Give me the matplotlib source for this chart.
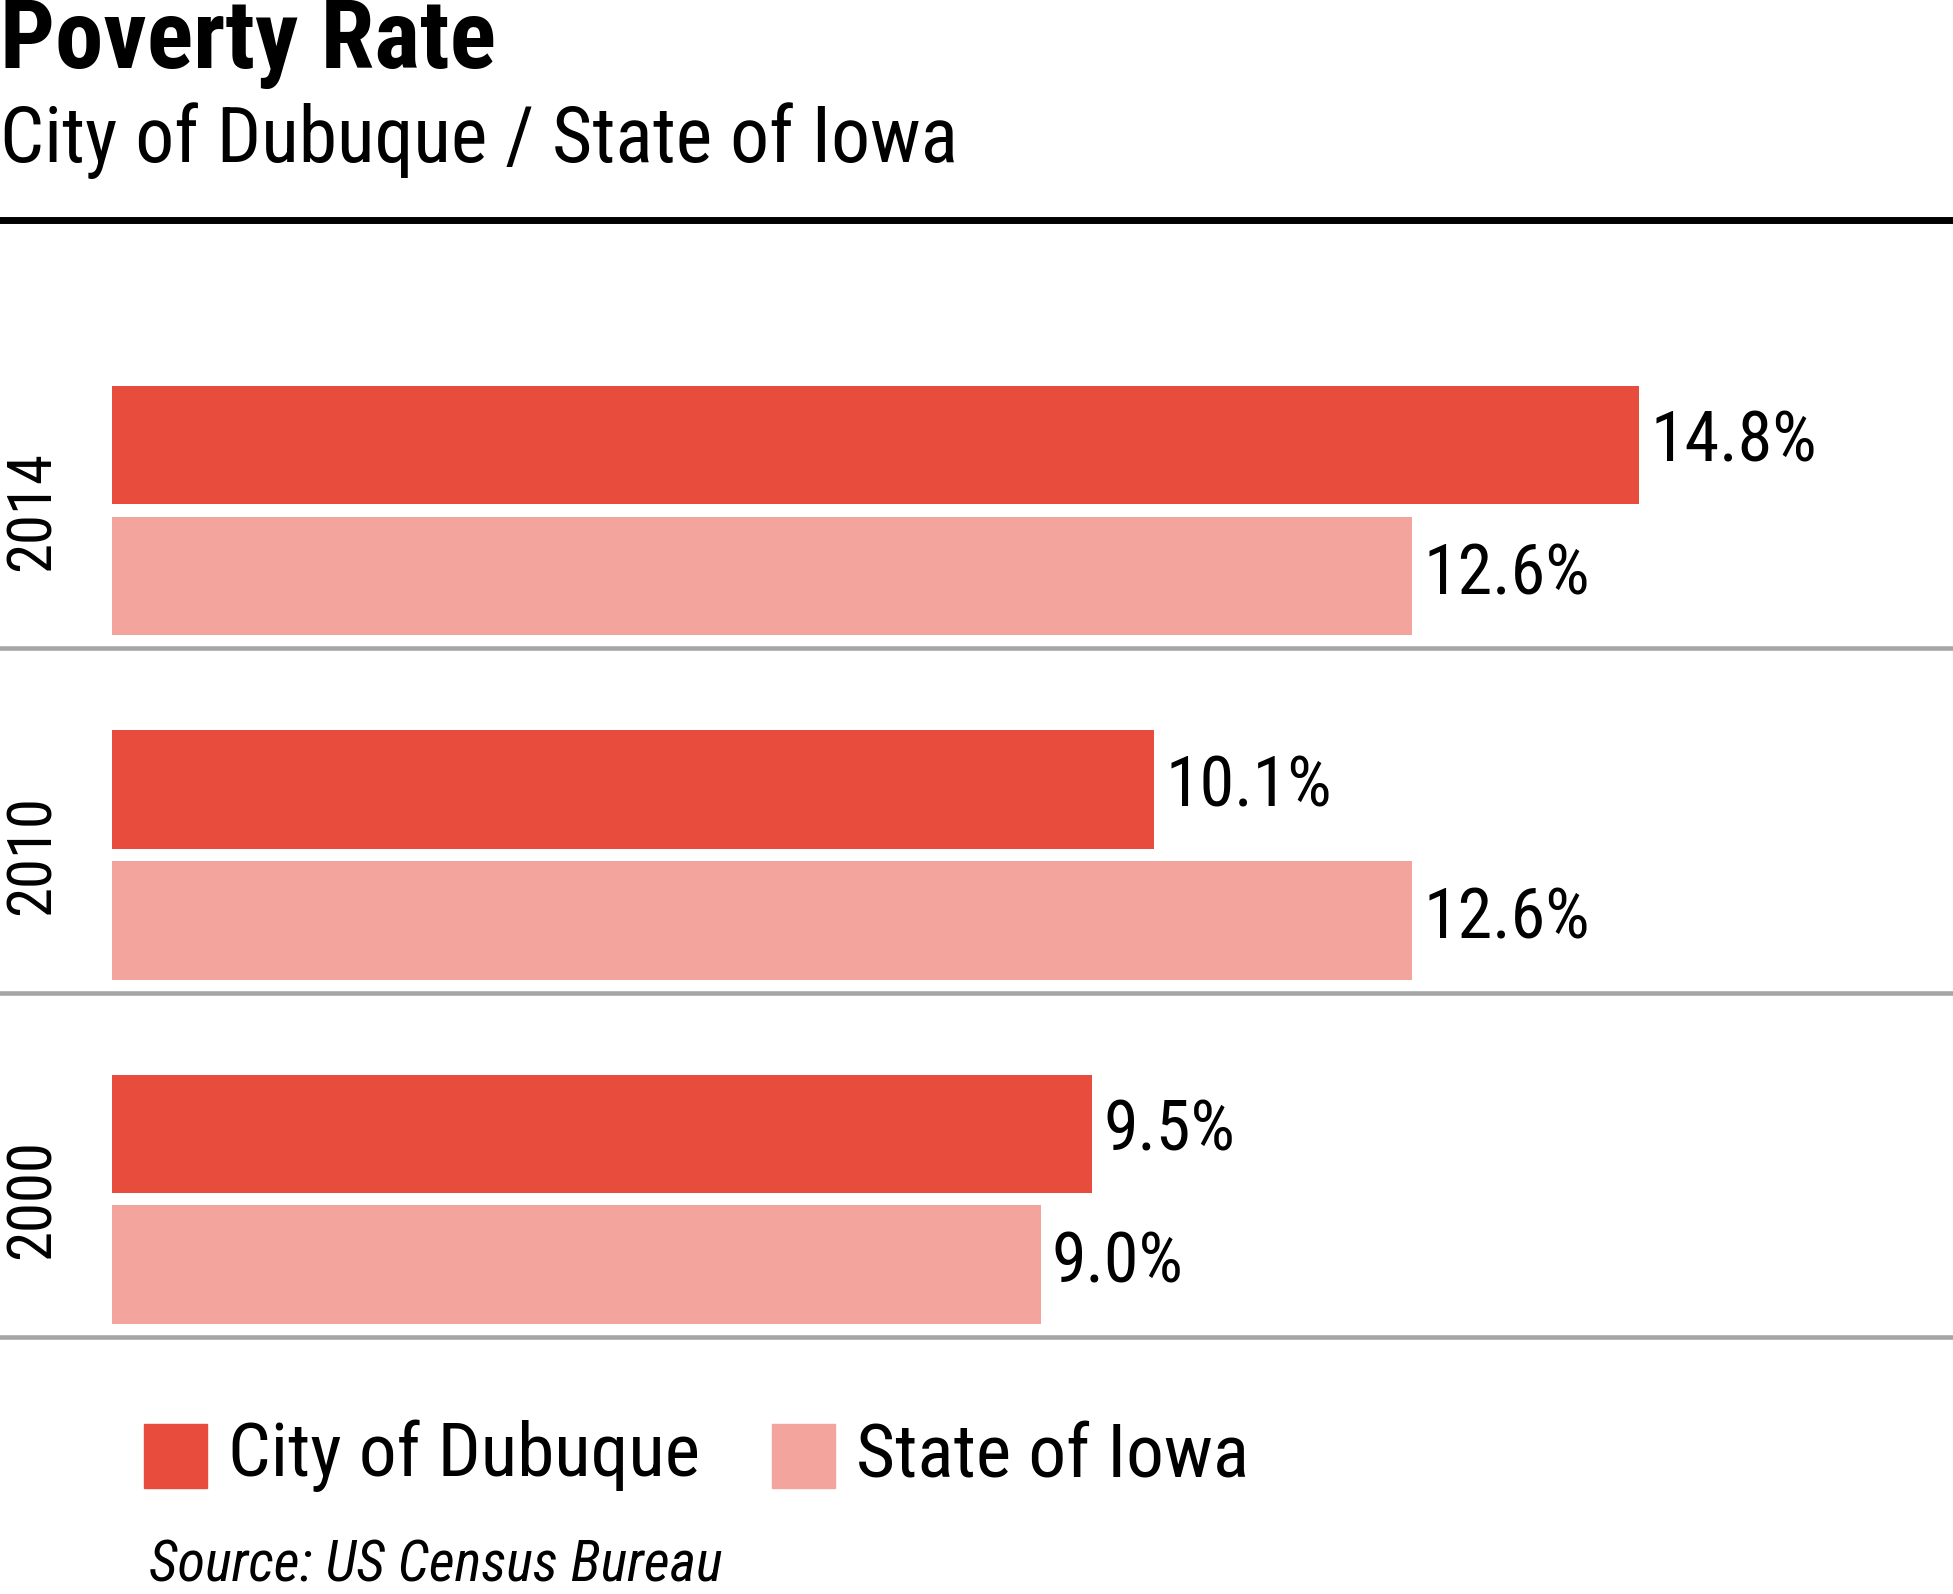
import matplotlib
matplotlib.use("Agg")
import matplotlib.pyplot as plt
from matplotlib import font_manager as fm
from matplotlib.patches import Rectangle
from matplotlib.lines import Line2D
import matplotlib.transforms as mtransforms

# ---- data ----
years = ["2014", "2010", "2000"]
dubuque = [14.8, 10.1, 9.5]
iowa = [12.6, 12.6, 9.0]
series_names = ["City of Dubuque", "State of Iowa"]
title = "Poverty Rate"
subtitle = "City of Dubuque / State of Iowa"
source = "Source: US Census Bureau"

# ---- styles ----
RED = "#E74C3C"
PINK = "#F3A59D"
GREY = "#A6A6A6"

names = {f.name for f in fm.fontManager.ttflist}
def pick(*cands):
    for c in cands:
        if c in names:
            return c
    return "DejaVu Sans"

COND = pick("Liberation Sans Narrow", "Roboto Condensed", "Roboto", "Lato")
REG = pick("Roboto Condensed", "Liberation Sans", "DejaVu Sans")

W, H = 1953, 1594
fig = plt.figure(figsize=(W / 100, H / 100), dpi=100)
renderer = fig.canvas.get_renderer()

def fx(px):
    return px / W

def fy(py):
    return 1 - py / H

def fit(text, target_px, **kw):
    t = fig.text(0, 0, text, fontsize=100, **kw)
    w = t.get_window_extent(renderer).width
    t.remove()
    return 100 * target_px / w

ax = fig.add_axes([fx(112), fy(1380), fx(1841), (1380 - 240) / H])
ax.set_xlim(0, 1841 / 103.2)
ax.set_ylim(2.525, -0.786)
ax.axis("off")

bh = 0.3437
off = 0.19
pos = list(range(len(years)))
ax.barh([p - off for p in pos], dubuque, height=bh, color=RED, label=series_names[0])
ax.barh([p + off for p in pos], iowa, height=bh, color=PINK, label=series_names[1])

vsize = fit("14.8%", 153, family=COND) * 1.09
for p, v in zip(pos, dubuque):
    ax.annotate(f"{v:.1f}%", (v, p - off), xytext=(8, 2), textcoords="offset points",
                va="center", ha="left", fontsize=vsize, family=COND)
for p, v in zip(pos, iowa):
    ax.annotate(f"{v:.1f}%", (v, p + off), xytext=(8, 1), textcoords="offset points",
                va="center", ha="left", fontsize=vsize, family=COND)

# separator lines
for p in pos:
    ax.axhline(p + 0.40, xmin=-112 / 1841, xmax=1.0, color=GREY, lw=3.3, clip_on=False)

# year labels
ysize = fit("2014", 120, family=REG)
trans = mtransforms.blended_transform_factory(fig.transFigure, ax.transData)
for p, y in zip(pos, years):
    ax.text(fx(33), p, y, rotation=90, ha="center", va="center", fontsize=ysize,
            transform=trans, family=REG)

# title / subtitle
fig.text(fx(0), fy(68), title, fontsize=fit(title, 496, family=COND, fontweight="bold"),
         fontweight="bold", va="baseline", ha="left", family=COND)
fig.text(fx(0), fy(162), subtitle, fontsize=fit(subtitle, 957, family=COND),
         va="baseline", ha="left", family=COND)
fig.add_artist(Line2D([0, 1], [fy(220), fy(220)], color="black", lw=5, transform=fig.transFigure))

# legend
lsize = fit(series_names[0], 473, family=COND)
for x0, name, col in [(144, series_names[0], RED), (772, series_names[1], PINK)]:
    fig.add_artist(Rectangle((fx(x0), fy(1488)), fx(63), 64 / H, color=col,
                             transform=fig.transFigure))
    fig.text(fx(x0 + 84), fy(1456), name, fontsize=lsize, va="center", ha="left", family=COND)

fig.text(fx(149), fy(1582), source, fontsize=fit(source, 573, family=COND, style="italic"),
         style="italic", va="baseline", ha="left", family=COND)

fig.savefig("out.png", dpi=100)
